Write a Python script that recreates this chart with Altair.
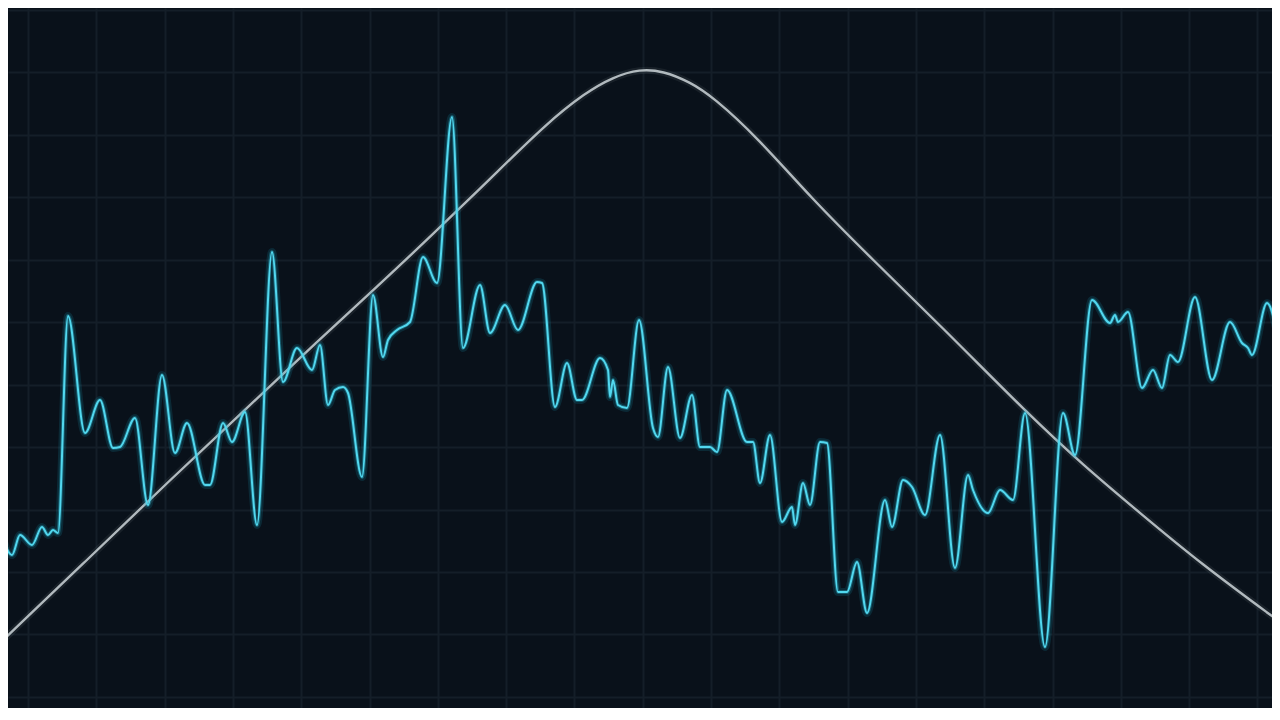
import altair as alt
import pandas as pd

# cyan signal: sample position and amplitude
sig_t = [0, 12, 20, 32, 42, 48, 53, 58,
         68, 85, 100, 113, 120, 135, 148, 162, 175, 187, 205, 210, 223, 232, 245, 257,
         272, 283, 297, 312, 320, 328, 335, 343, 348, 362, 373, 383, 388, 397, 410, 423,
         437, 452, 463, 480, 490, 505, 518, 537, 542,
         555, 567, 577, 582, 600, 608, 610, 613, 618, 627, 639, 653, 658, 668, 680, 692,
         700, 710, 717, 727, 747, 753, 760, 770, 782, 792, 795, 803, 810, 820, 827, 838,
         847, 857, 867, 885, 892, 903, 912, 925, 940, 955, 968, 973, 988, 1000, 1013, 1025,
         1045, 1063, 1075, 1092, 1110, 1115, 1118, 1128, 1142, 1153, 1162, 1170, 1178, 1195,
         1212, 1230, 1242, 1248, 1252, 1267, 1280]
sig_v = [190, 165, 185, 175, 193, 185, 190, 187,
         404, 287, 320, 272, 273, 302, 215, 345, 267, 297, 235, 235, 297, 278, 308, 195,
         468, 338, 372, 350, 375, 315, 330, 333, 327, 243, 425, 363, 380, 390, 398, 463,
         437, 603, 372, 435, 387, 415, 390, 438, 437,
         313, 357, 320, 320, 362, 350, 323, 340, 315, 312, 400, 292, 283, 353, 282, 325,
         273, 273, 268, 330, 278, 278, 237, 285, 198, 213, 195, 237, 215, 278, 277, 128,
         128, 158, 107, 220, 193, 240, 233, 205, 285, 152, 245, 230, 207, 230, 220, 307,
         73, 307, 265, 420, 397, 405, 398, 408, 332, 350, 332, 365, 358, 423,
         340, 398, 377, 372, 365, 417, 372]

# smooth bell curve
bell_t = [0, 87, 170, 243, 310, 380, 430, 490, 547, 585, 613, 640, 663, 690, 713,
          757, 813, 870, 950, 1027, 1083, 1140, 1200, 1280]
bell_v = [77, 160, 240, 308, 372, 436, 483, 541, 597, 627, 643, 651, 649, 638, 623,
          583, 520, 463, 385, 307, 255, 207, 157, 98]

# grid positions
grid_t = [28, 96, 165, 233, 301, 370, 438, 506, 574, 643, 711, 779, 848, 916, 984,
          1053, 1121, 1189, 1257]
grid_v = [23, 86, 148, 210, 273, 335, 398, 460, 523, 585, 648, 710]

assert len(sig_t) == len(sig_v)
assert len(bell_t) == len(bell_v)

sig = pd.DataFrame({"t": sig_t, "v": sig_v})
bell = pd.DataFrame({"t": bell_t, "v": bell_v})

BG = "#09111a"
GRID = "#141e28"

xs = alt.Scale(domain=[8, 1272], nice=False, zero=False)
ys = alt.Scale(domain=[12, 712], nice=False, zero=False)

x_axis = alt.Axis(values=grid_t, labels=False, ticks=False, domain=False,
                  title=None, grid=True, gridColor=GRID, gridWidth=2)
y_axis = alt.Axis(values=grid_v, labels=False, ticks=False, domain=False,
                  title=None, grid=True, gridColor=GRID, gridWidth=2)


def line(df, color, width, opacity, interp):
    return alt.Chart(df).mark_line(
        color=color, strokeWidth=width, opacity=opacity, interpolate=interp,
        clip=True, strokeJoin="round", strokeCap="round"
    ).encode(
        x=alt.X("t:Q", scale=xs, axis=x_axis),
        y=alt.Y("v:Q", scale=ys, axis=y_axis),
    )


chart = alt.layer(
    line(bell, "#cfd8dc", 7, 0.08, "basis"),
    line(bell, "#b9c2c6", 2.4, 0.95, "basis"),
    line(sig, "#1aa6c9", 8, 0.16, "monotone"),
    line(sig, "#2fc3e0", 4, 0.32, "monotone"),
    line(sig, "#52d8ef", 2.0, 1.0, "monotone"),
).properties(
    width=1264, height=700, background=BG, padding=0,
    autosize=alt.AutoSizeParams(type="none"),
).configure_view(strokeWidth=0, fill=BG)

chart.save("out.html", embed_options={"renderer": "svg", "actions": False})
